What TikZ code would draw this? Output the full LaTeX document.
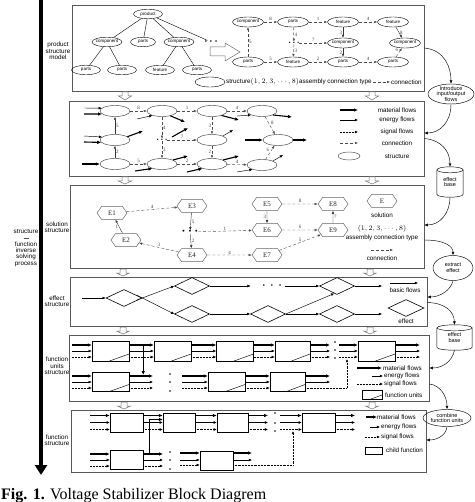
\documentclass[tikz,border=0pt]{standalone}
\usepackage{fontspec}
\setmainfont{Liberation Sans}
\newfontfamily\serif{Liberation Serif}
\usetikzlibrary{arrows.meta,shapes.geometric,shapes.symbols,calc}
\newcommand\hollowdn[3]{\draw[black!55,fill=white,line width=0.5pt] ({#1-3},#2) -- ({#1+3},#2) -- ({#1+3},{#2+4}) -- ({#1+6.5},{#2+4}) -- (#1,#3) -- ({#1-6.5},{#2+4}) -- ({#1-3},{#2+4}) -- cycle;}
\newcommand\trio[5]{%
  \draw[mat] ($(#1)+(0,#3)$) -- ($(#2)+(0,#3)$);
  \draw[ene] ($(#1)+(0,#4)$) -- ($(#2)+(0,#4)$);
  \draw[sig] ($(#1)+(0,#5)$) -- ($(#2)+(0,#5)$);}
\newcommand\threedots[4]{\fill (#1,#2) circle (0.9pt) (#1,#3) circle (0.9pt) (#1,#4) circle (0.9pt);}
\newcommand\cylshape[1]{%
  \draw[line width=0.45pt] ($(#1.north)+(0,3)$) ellipse [x radius=\cylr, y radius=3pt];
  \draw[line width=0.45pt] ($(#1.north west)+(0,3)$) -- ($(#1.south west)+(0,-3)$) .. controls ($(#1.south west)+(0,1)$) and ($(#1.south east)+(0,1)$) .. ($(#1.south east)+(0,-3)$) -- ($(#1.north east)+(0,3)$);}
\begin{document}
\begin{tikzpicture}[x=1pt,y=-1pt,
  every node/.style={inner sep=0pt},
  el/.style={ellipse, draw, line width=0.4pt, minimum width=30pt, minimum height=9.5pt, inner xsep=-8pt, inner ysep=-1pt, font=\fontsize{4.5}{5}\selectfont},
  elr/.style={el, minimum width=31pt, minimum height=10pt},
  fl/.style={ellipse, draw, black!75, line width=0.45pt, minimum width=30pt, minimum height=11pt},
  hexa/.style={signal, signal to=east and west, signal pointer angle=110, draw, black!60, line width=0.5pt, minimum width=30pt, minimum height=13pt, text=black!85, font=\serif\fontsize{7}{7}\selectfont},
  dia/.style={diamond, draw, line width=0.6pt, minimum width=35pt, minimum height=17pt},
  fu/.style={rectangle, draw, line width=0.45pt, minimum width=37pt, minimum height=20pt, path picture={\draw[line width=0.45pt] ([xshift=-1pt]path picture bounding box.south) -- ([yshift=7pt]path picture bounding box.south east);}},
  cfn/.style={rectangle, draw, line width=0.45pt, minimum width=33pt, minimum height=19pt},
  panel/.style={rectangle, draw, black!65, line width=0.6pt},
  conn/.style={densely dashed, black!70, line width=0.4pt, -{Latex[length=3pt,width=2.4pt]}},
  conns/.style={black!80, line width=0.4pt, -{Latex[length=3pt,width=2.4pt]}},
  lab/.style={font=\serif\fontsize{5}{5}\selectfont, text=black!75, inner sep=0.8pt},
  mat/.style={line width=1.1pt, -{Latex[length=4pt,width=3.6pt]}},
  ene/.style={line width=0.45pt, -{Latex[length=3.2pt,width=2.8pt]}},
  sig/.style={line width=0.45pt, densely dotted, -{Latex[length=3.2pt,width=2.8pt]}},
  txt/.style={font=\fontsize{6.3}{6.5}\selectfont, align=center},
  side/.style={font=\fontsize{6.3}{6.4}\selectfont, align=center},
  sn/.style={ellipse, draw, line width=0.45pt, inner xsep=-8pt, inner ysep=-2pt, font=\fontsize{5.5}{5.8}\selectfont, align=center},
  curv/.style={line width=0.45pt, -{Latex[length=3.5pt,width=3pt]}},
]
\useasboundingbox (0,0) rectangle (474,502);

% ---- main process arrow and side labels
\draw[line width=3.6pt, -{Triangle[length=10pt,width=12pt]}] (41,-2) -- (41,475);
\node[side] (sl1) at (58,51) {product\\structure\\model};
\node[side] (sl0) at (26,248) {structure\\{\color{black!70}\rule[1.6pt]{5pt}{0.4pt}}\\function\\inverse\\solving\\process};
\node[side] (sl2) at (57,227) {solution\\structure};
\node[side] (sl3) at (57,301) {effect\\structure};
\node[side] (sl4) at (57,366) {function\\units\\structure};
\node[side] (sl5) at (57,440) {function\\structure};

% ---- panels
\node[panel, minimum width=352pt, minimum height=86pt] (P1) at (248,48) {};
\node[panel, minimum width=355pt, minimum height=75pt] (P2) at (246.5,138.5) {};
\node[panel, minimum width=354pt, minimum height=83pt] (P3) at (247,226.5) {};
\node[panel, minimum width=357pt, minimum height=49pt] (P4) at (248.5,301.5) {};
\node[panel, minimum width=360pt, minimum height=66pt] (P5) at (249,368) {};
\node[panel, minimum width=355pt, minimum height=62pt] (P6) at (248.5,441) {};

\hollowdn{125}{92}{100} \hollowdn{372}{92}{100}
\hollowdn{125}{177}{184} \hollowdn{372}{177}{184}
\hollowdn{123}{269}{276} \hollowdn{370}{269}{276}
\hollowdn{123}{327}{334} \hollowdn{370}{327}{334}
\hollowdn{124}{402}{409} \hollowdn{372}{402}{409}

% ================= panel 1 : product structure model
\node[el, minimum width=29pt] (t0) at (148,14) {product};
\node[el] (t1) at (107,42) {component};
\node[el, minimum width=25pt] (t2) at (143,42) {parts};
\node[el] (t3) at (179,42) {component};
\node[font=\fontsize{6}{6}\selectfont] (t4) at (211,42) {\textbullet\hspace{3pt}\textbullet\hspace{3pt}\textbullet};
\node[el, minimum width=29pt] (t5) at (86,70) {parts};
\node[el, minimum width=29pt] (t6) at (122,70) {parts};
\node[el, minimum width=29pt] (t7) at (160,70) {feature};
\node[el, minimum width=29pt] (t8) at (197,70) {parts};
\draw[line width=0.4pt] (t0) -- (t1) (t0) -- (t2) (t0) -- (t3) (t0) -- (t4)
  (t1) -- (t5) (t1) -- (t6) (t3) -- (t7) (t3) -- (t8);
\draw[black!60, fill=white, line width=0.5pt] (210,47) -- (225,47) -- (225,43) -- (240,52) -- (225,61) -- (225,56) -- (210,56) -- cycle;

\node[elr] (r1) at (248,22) {component};
\node[elr] (r2) at (293,22) {parts};
\node[elr] (r3) at (343,22) {feature};
\node[elr] (r4) at (393,22) {feature};
\node[elr] (r5) at (343,43) {component};
\node[elr] (r6) at (405,43) {component};
\node[elr] (r7) at (248,62) {parts};
\node[elr] (r8) at (293,62) {feature};
\node[elr] (r9) at (343,62) {parts};
\node[elr] (r10) at (393,62) {parts};
\node[font=\fontsize{5}{5}\selectfont] (rj) at (294,43) {\textbullet\hspace{2.5pt}\textbullet\hspace{2.5pt}\textbullet};
\draw[conn] (r7) -- node[lab, right] {5} (r1);
\draw[conn] (r1) -- node[lab, above] {8} (r2);
\draw[conn] (r2) -- node[lab, above] {1} (r3);
\draw[conn] (r3) -- node[lab, above] {4} (r4);
\draw[conns] (r3) -- node[lab, left] {3} (r5);
\draw[conns] (r4) -- node[lab, right] {8} (r6);
\draw[conn] (r2) -- node[lab, right] {4} (rj);
\draw[conn] (rj) -- node[lab, right] {3} (r8);
\draw[conn] (rj) -- node[lab, above] {7} (r5);
\draw[conns] (r5) -- node[lab, left] {2} (r9);
\draw[conn] (r7) -- node[lab, above] {5} (r8);
\draw[conn] (r8) -- node[lab, above] {2} (r9);
\draw[conn] (r9) -- node[lab, above] {4} (r10);
\draw[conn] (r10) -- node[lab, above left] {6} (r6);

\node[el, minimum width=30pt, minimum height=10pt] (lg1) at (210,82) {};
\node[anchor=west, font=\fontsize{6.3}{7}\selectfont] (lg1t) at (226,82) {structure{\fontsize{7.5}{8}\selectfont$(1,2,3,\cdots,8)$}assembly connection type};
\node[anchor=west, font=\fontsize{6.3}{7}\selectfont] (lg1c) at (391,82) {connection};
\draw[conn] ([xshift=1.5pt]lg1t.east) -- ([xshift=-1pt]lg1c.west);

% ================= panel 2 : flows on structure
\node[fl] (A) at (115,111) {};
\node[fl] (B) at (162,111) {};
\node[fl] (C) at (212,111) {};
\node[fl] (D) at (262,111) {};
\node[fl] (E) at (115,140) {};
\node[fl] (F) at (212,140) {};
\node[fl] (G) at (278,140) {};
\node[fl] (H) at (115,164) {};
\node[fl] (I) at (162,164) {};
\node[fl] (J) at (212,164) {};
\node[fl] (K) at (262,165) {};
\node[font=\fontsize{5}{5}\selectfont] (pj) at (162,140) {\textbullet\hspace{2.5pt}\textbullet\hspace{2.5pt}\textbullet};
\draw[conn] (A) -- node[lab,above]{8} (B);
\draw[conn] (B) -- node[lab,above]{1} (C);
\draw[conn] (C) -- node[lab,above]{4} (D);
\draw[conn] (D) -- node[lab,above right]{8} (G);
\draw[conn] (B) -- node[lab,right]{4} (pj);
\draw[conn] (pj) -- node[lab,right]{3} (I);
\draw[conn] (pj) -- node[lab,above]{7} (F);
\draw[conn] (C) -- node[lab,left]{3} (F);
\draw[conn] (F) -- node[lab,left]{2} (J);
\draw[conn] (J) -- node[lab,above]{4} (K);
\draw[conn] (K) -- node[lab,above left]{6} (G);
\draw[conn] (H) -- node[lab,above]{5} (I);
\draw[conn] (I) -- node[lab,above]{2} (J);
\draw[conns] (H) -- node[lab,right]{2} (E);
\draw[conns] (E) -- node[lab,right]{5} (A);

\draw[ene] (84,108) -- (A.168);
\draw[mat] (84,114) -- (A.193);
\draw[ene] (84,136) -- (E.167);
\draw[mat] (84,142) -- (E.190);
\draw[mat] (82,164) -- (H.west);
\draw[mat] (E.15) -- (143,131);
\draw[ene] (137,119) -- (B.205);
\draw[mat] (B.330) -- (185,122);
\draw[mat] (172,137) -- (188,128);
\draw[mat] (C.335) -- (239,120);
\draw[ene] (237,116) -- (D.200);
\draw[mat] (D.340) -- (292,117);
\draw[ene] (F.20) -- (233,130);
\draw[mat] (135,171) -- (I.205);
\draw[mat] (I.20) -- (188,156);
\draw[mat] (187,172) -- (J.205);
\draw[mat] (J.20) -- (239,156);
\draw[ene] (237,172) -- (K.205);
\draw[ene] (K.20) -- (283,155);
\draw[mat] (245,140) -- (G.west);
\draw[mat] (G.east) -- (307,140);

\node[txt] (l2a) at (397,110) {material flows};
\node[txt] (l2b) at (397,120) {energy flows};
\node[txt] (l2c) at (397,132) {signal flows};
\node[txt] (l2d) at (397,143) {connection};
\node[txt] (l2e) at (397,156) {structure};
\draw[mat] (340,110) -- (358,110);
\draw[ene] (340,120) -- (358,120);
\draw[sig] (340,132) -- (358,132);
\draw[conn] (340,143) -- (358,143);
\node[fl, minimum width=22pt, minimum height=8pt] (l2f) at (349,156) {};

% ================= panel 3 : solution structure
\node[hexa] (E1) at (112,213) {E1};
\node[hexa] (E2) at (126,240) {E2};
\node[hexa] (E3) at (192,206) {E3};
\node[hexa] (E4) at (192,255) {E4};
\node[font=\fontsize{7}{7}\selectfont] (d3) at (190,232) {\textbullet\hspace{4pt}\textbullet\hspace{4pt}\textbullet};
\node[hexa] (E5) at (267,204) {E5};
\node[hexa] (E6) at (267,230) {E6};
\node[hexa] (E7) at (267,255) {E7};
\node[hexa] (E8) at (333,204) {E8};
\node[hexa] (E9) at (333,230) {E9};
\draw[conn] (E1) -- node[lab,above]{4} (E3);
\draw[conns] (E3) -- node[lab,right]{5} (d3);
\draw[conns] (d3) -- node[lab,right]{2} (E4);
\draw[conn] (E4) -- node[lab,above]{3} (E2);
\draw[conns] (E2) -- node[lab,left]{1} (E1);
\draw[conn] (d3) -- node[lab,above]{1} (E6);
\draw[conn] (E4) -- node[lab,above]{4} (E7);
\draw[conn] (E5) -- node[lab,above]{8} (E8);
\draw[conns] (E5) -- node[lab,left]{3} (E6);
\draw[conn] (E6) -- node[lab,above]{6} (E9);
\draw[conns] (E9) -- node[lab,right]{7} (E8);
\draw[conn] (E7) -- node[lab,above]{5} (E9);

\node[hexa] (EL) at (382,201) {E};
\node[txt] (l3a) at (382,215) {solution};
\node[font=\fontsize{7.5}{8}\selectfont] (l3b) at (382,229) {$(1,2,3,\cdots,8)$};
\node[txt] (l3c) at (382,238) {assembly connection type};
\node[txt] (l3d) at (382,258) {connection};
\draw[conn] (371,250) -- (393,250);

% ================= panel 4 : effect structure
\node[dia, minimum width=36pt] (D0) at (124,298) {};
\node[dia] (D1) at (192,286) {};
\node[dia] (D2) at (192,314) {};
\node[dia] (D3) at (268,314) {};
\node[dia] (D4) at (337,286) {};
\node[dia] (D5) at (337,314) {};
\node[font=\fontsize{6}{6}\selectfont] (d4) at (272,286) {\textbullet\hspace{6pt}\textbullet\hspace{6pt}\textbullet};
\coordinate (in4) at (82,298);
\draw[ene] (in4) -- (D0.west);
\draw[ene] ($(D0.east)!-0.18!(D1.west)$) -- (D1.west);
\draw[ene] ($(D0.east)!-0.18!(D2.west)$) -- (D2.west);
\draw[ene] (D1.east) -- ([xshift=-12pt]d4.west);
\draw[ene] ([xshift=4pt]d4.east) -- (D4.west);
\draw[ene] (D2.east) -- (D3.west);
\draw[ene] (D3.east) -- (D4.250);
\draw[ene] (D3.east) -- (D5.west);
\coordinate (o4a) at (382,286);
\coordinate (o4b) at (382,314);
\draw[ene] (D4.east) -- (o4a);
\draw[ene] (D5.east) -- (o4b);
\draw[ene] (390,283) -- (418,283);
\node[txt] (l4a) at (405,290) {basic flows};
\node[dia, minimum width=36pt] (LD) at (406,308) {};
\node[txt] (l4b) at (406,321) {effect};

% ================= panel 5 : function units structure
\node[fu] (B1) at (110.5,351) {};
\node[fu] (B2) at (172.5,351) {};
\node[fu] (B3) at (235,351) {};
\node[fu, minimum width=35pt] (B4) at (292.5,351) {};
\node[fu] (B5) at (376.5,351) {};
\node[fu, minimum height=19pt] (B6) at (110.5,382) {};
\node[fu, minimum height=19pt] (B7) at (226.5,382) {};
\node[fu, minimum width=35pt, minimum height=19pt] (B8) at (287.5,382) {};
\coordinate (i51) at (72,351);
\trio{i51}{B1.west}{-6}{0}{6}
\trio{B1.east}{B2.west}{-6}{0}{6}
\trio{B2.east}{B3.west}{-6}{0}{6}
\trio{B3.east}{B4.west}{-6}{0}{6}
\coordinate (o54) at (330,351);
\trio{B4.east}{o54}{-6}{0}{6}
\threedots{335}{342}{350}{358}
\coordinate (i55) at (339,351);
\trio{i55}{B5.west}{-6}{0}{6}
\coordinate (o55) at (420,351);
\trio{B5.east}{o55}{-6}{0}{6}
\draw[mat] ($(B1.east)+(14,-6)$) -- ++(0,30);
\coordinate (i56) at (72,382);
\trio{i56}{B6.west}{-6}{0}{6}
\coordinate (o56) at (153,382);
\trio{B6.east}{o56}{-6}{0}{6}
\threedots{170}{374}{382}{391}
\coordinate (i57) at (182,382);
\trio{i57}{B7.west}{-6}{0}{6}
\trio{B7.east}{B8.west}{-6}{0}{6}
\coordinate (o58) at (330,382);
\draw[mat] ($(B8.east)+(0,-6)$) -- ($(o58)+(0,-6)$);
\draw[ene] (B8.east) -- (o58);
\draw[sig] ($(B8.east)+(0,6)$) -| (347,359);

\draw[mat] (357,368) -- (382,368);
\node[txt, anchor=west] (l5a) at (383,368) {material flows};
\draw[ene] (372,376) -- (383,376);
\node[txt, anchor=west] (l5b) at (384,376) {energy flows};
\draw[sig] (357,384) -- (383,384);
\node[txt, anchor=west] (l5c) at (384,384) {signal flows};
\node[fu, minimum width=20pt, minimum height=9pt, path picture={\draw[line width=0.45pt] ([xshift=-1pt]path picture bounding box.south) -- ([yshift=4pt]path picture bounding box.south east);}] (l5d) at (372,394.5) {};
\node[txt, anchor=west] (l5e) at (385,395) {function units};

% ================= panel 6 : function structure
\node[cfn] (C1) at (126.5,422.5) {};
\node[cfn, minimum width=32pt] (C2) at (179,422.5) {};
\node[cfn, minimum width=31pt] (C3) at (232.5,422.5) {};
\node[cfn] (C4) at (318.5,422.5) {};
\node[cfn] (C5) at (126.5,459.5) {};
\node[cfn] (C6) at (216.5,460.5) {};
\coordinate (i61) at (90,422.5);
\trio{i61}{C1.west}{-7}{0}{7}
\trio{C1.east}{C2.west}{-7}{0}{7}
\trio{C2.east}{C3.west}{-7}{0}{7}
\coordinate (o63) at (268,422.5);
\trio{C3.east}{o63}{-7}{0}{7}
\threedots{275}{413}{423}{431}
\coordinate (i64) at (280,422.5);
\trio{i64}{C4.west}{-7}{0}{7}
\coordinate (o64) at (355,422.5);
\trio{C4.east}{o64}{-7}{0}{7}
\coordinate (i65) at (90,459.5);
\trio{i65}{C5.west}{-5.5}{0.5}{6.5}
\coordinate (o65) at (163,459.5);
\trio{C5.east}{o65}{-5.5}{0.5}{6.5}
\draw[mat] ($(C5.east)+(6,-5.5)$) |- ($(C2.west)+(0,-3)$);
\threedots{170}{452}{460}{469}
\coordinate (i66) at (180,460.5);
\trio{i66}{C6.west}{-7.5}{-0.5}{4.5}
\coordinate (o66) at (252,460.5);
\draw[mat] ($(C6.east)+(0,-7.5)$) -- ($(o66)+(0,-7.5)$);
\draw[ene] ($(C6.east)+(0,-0.5)$) -- ($(o66)+(0,-0.5)$);
\draw[sig] ($(C6.east)+(0,4.5)$) -| (293,431);

\draw[mat] (366,417) -- (377,417);
\node[txt, anchor=west] (l6a) at (377,417) {material flows};
\draw[ene] (370,427) -- (380,427);
\node[txt, anchor=west] (l6b) at (381,427) {energy flows};
\draw[sig] (365,437) -- (380,437);
\node[txt, anchor=west] (l6c) at (381,437) {signal flows};
\node[cfn, minimum width=17pt, minimum height=7pt] (l6d) at (373.5,450.5) {};
\node[txt, anchor=west] (l6e) at (386,450.5) {child function};

% ================= side nodes on the right
\node[sn, minimum width=46pt, minimum height=20pt] (io) at (451,94) {Introduce\\input/output\\flows};
\def\cylr{13pt}
\node[minimum width=26pt, minimum height=30pt, font=\fontsize{5.5}{5.8}\selectfont, align=center] (cy1) at (450,182) {effect\\base};
\cylshape{cy1}
\node[sn, minimum width=40pt, minimum height=25pt] (ee) at (453,268) {extract\\effect};
\def\cylr{17.5pt}
\node[minimum width=35pt, minimum height=25pt, font=\fontsize{5.5}{5.8}\selectfont, align=center] (cy2) at (454.5,337.5) {effect\\base};
\cylshape{cy2}
\node[sn, minimum width=48pt, minimum height=17pt] (cf) at (447,418) {combine\\function units};

\draw[curv] (P1.east) .. controls (445,50) and (451,68) .. (io.north);
\draw[curv] (io.south) .. controls (451,122) and (440,133) .. ($(P2.east)+(0,-5.5)$);
\draw[curv] (P2.east) .. controls (442,140) and (450,152) .. (cy1.north);
\draw[curv] (cy1.south) .. controls (450,213) and (440,225) .. ($(P3.east)+(0,-1.5)$);
\draw[curv] ($(P3.east)+(0,13.5)$) .. controls (446,240) and (453,247) .. (ee.north);
\draw[curv] (ee.south) .. controls (451,290) and (440,297) .. ($(P4.east)+(0,-4.5)$);
\draw[curv] ($(P4.east)+(0,1)$) .. controls (446,303) and (454,312) .. (cy2.north);
\draw[curv] (cy2.south) .. controls (452,362) and (442,368) .. (P5.east);
\draw[curv] ($(P5.east)+(0,16)$) .. controls (440,385) and (447,396) .. (cf.north);
\draw[curv] (cf.south) .. controls (446,436) and (436,440) .. ($(P6.east)+(0,-1)$);

% ================= caption
\node[anchor=base west, font=\serif\fontsize{16}{16}\selectfont] (cap) at (1,499) {\textbf{Fig. 1.} Voltage Stabilizer Block Diagrem};
\end{tikzpicture}
\end{document}
